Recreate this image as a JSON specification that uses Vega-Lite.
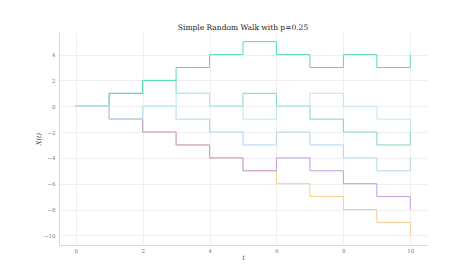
{
  "$schema": "https://vega.github.io/schema/vega-lite/v6.json",
  "width": 368,
  "height": 213,
  "autosize": "none",
  "padding": {"left": 59, "top": 32, "right": 47, "bottom": 31},
  "background": "white",
  "title": {"text": "Simple Random Walk with p=0.25", "font": "DejaVu Serif", "fontSize": 7.5, "fontWeight": "normal", "color": "#222222", "offset": 1},
  "data": {"values": [
    {"path": "B", "t": 0, "x": 0}, {"path": "B", "t": 1, "x": -1}, {"path": "B", "t": 2, "x": -2}, {"path": "B", "t": 3, "x": -3}, {"path": "B", "t": 4, "x": -4}, {"path": "B", "t": 5, "x": -5}, {"path": "B", "t": 6, "x": -6}, {"path": "B", "t": 7, "x": -7}, {"path": "B", "t": 8, "x": -8}, {"path": "B", "t": 9, "x": -9}, {"path": "B", "t": 10, "x": -10},
    {"path": "C", "t": 0, "x": 0}, {"path": "C", "t": 1, "x": -1}, {"path": "C", "t": 2, "x": -2}, {"path": "C", "t": 3, "x": -3}, {"path": "C", "t": 4, "x": -4}, {"path": "C", "t": 5, "x": -5}, {"path": "C", "t": 6, "x": -4}, {"path": "C", "t": 7, "x": -5}, {"path": "C", "t": 8, "x": -6}, {"path": "C", "t": 9, "x": -7}, {"path": "C", "t": 10, "x": -8},
    {"path": "D", "t": 0, "x": 0}, {"path": "D", "t": 1, "x": 1}, {"path": "D", "t": 2, "x": 2}, {"path": "D", "t": 3, "x": 1}, {"path": "D", "t": 4, "x": 0}, {"path": "D", "t": 5, "x": 1}, {"path": "D", "t": 6, "x": 0}, {"path": "D", "t": 7, "x": -1}, {"path": "D", "t": 8, "x": -2}, {"path": "D", "t": 9, "x": -3}, {"path": "D", "t": 10, "x": -2},
    {"path": "A", "t": 0, "x": 0}, {"path": "A", "t": 1, "x": 1}, {"path": "A", "t": 2, "x": 2}, {"path": "A", "t": 3, "x": 3}, {"path": "A", "t": 4, "x": 4}, {"path": "A", "t": 5, "x": 5}, {"path": "A", "t": 6, "x": 4}, {"path": "A", "t": 7, "x": 3}, {"path": "A", "t": 8, "x": 4}, {"path": "A", "t": 9, "x": 3}, {"path": "A", "t": 10, "x": 4},
    {"path": "F", "t": 0, "x": 0}, {"path": "F", "t": 1, "x": -1}, {"path": "F", "t": 2, "x": 0}, {"path": "F", "t": 3, "x": -1}, {"path": "F", "t": 4, "x": -2}, {"path": "F", "t": 5, "x": -3}, {"path": "F", "t": 6, "x": -2}, {"path": "F", "t": 7, "x": -3}, {"path": "F", "t": 8, "x": -4}, {"path": "F", "t": 9, "x": -5}, {"path": "F", "t": 10, "x": -4},
    {"path": "E", "t": 0, "x": 0}, {"path": "E", "t": 1, "x": -1}, {"path": "E", "t": 2, "x": 0}, {"path": "E", "t": 3, "x": 1}, {"path": "E", "t": 4, "x": 0}, {"path": "E", "t": 5, "x": -1}, {"path": "E", "t": 6, "x": 0}, {"path": "E", "t": 7, "x": 1}, {"path": "E", "t": 8, "x": 0}, {"path": "E", "t": 9, "x": -1}, {"path": "E", "t": 10, "x": -2}
  ]},
  "mark": {"type": "line", "interpolate": "step-after", "strokeWidth": 1},
  "encoding": {
    "x": {"field": "t", "type": "quantitative", "scale": {"domain": [-0.5, 10.5], "nice": false, "zero": false},
      "axis": {"title": "t", "titleFont": "DejaVu Serif", "titleFontStyle": "italic", "titleFontWeight": "normal", "titleFontSize": 6.5, "titleColor": "#444444", "titlePadding": 1,
        "values": [0, 2, 4, 6, 8, 10], "labelFont": "DejaVu Serif", "labelFontSize": 5.5, "labelColor": "#777777", "labelPadding": 3, "ticks": false,
        "domainColor": "#d6d6de", "gridColor": "#ebebf0", "gridWidth": 0.8}},
    "y": {"field": "x", "type": "quantitative", "scale": {"domain": [-10.75, 5.75], "nice": false, "zero": false},
      "axis": {"title": "X(t)", "titleFont": "DejaVu Serif", "titleFontStyle": "italic", "titleFontWeight": "normal", "titleFontSize": 6.5, "titleColor": "#444444", "titlePadding": 2,
        "values": [-10, -8, -6, -4, -2, 0, 2, 4], "labelFont": "DejaVu Serif", "labelFontSize": 5.5, "labelColor": "#777777", "labelPadding": 4, "ticks": false,
        "domainColor": "#d6d6de", "gridColor": "#ebebf0", "gridWidth": 0.8}},
    "color": {"field": "path", "type": "nominal", "legend": null,
      "scale": {"domain": ["B", "C", "D", "A", "F", "E"], "range": ["#f7cd8a", "#c39ddb", "#7fd6c2", "#5cd9bb", "#b0d7ee", "#bfe6f0"]}},
    "order": {"field": "t", "type": "quantitative"}
  },
  "config": {"view": {"stroke": null}, "axis": {"domainWidth": 1}}
}
